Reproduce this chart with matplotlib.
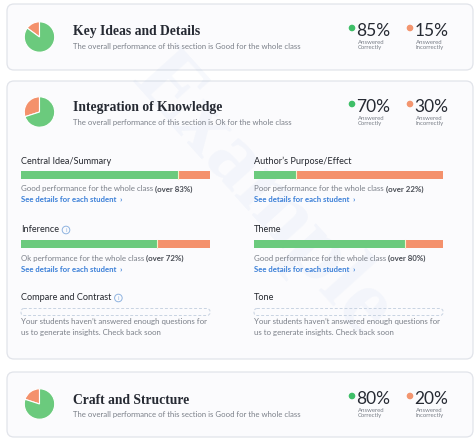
import matplotlib.pyplot as plt
from matplotlib.patches import FancyBboxPatch, Circle

# data
sections = ["Key Ideas and Details", "Integration of Knowledge", "Craft and Structure"]
section_rating = ["Good", "Ok", "Good"]
correct = [85, 70, 80]
incorrect = [15, 30, 20]

skills = ["Central Idea/Summary", "Author\u2019s Purpose/Effect", "Inference", "Theme",
          "Compare and Contrast", "Tone"]
skill_pct = [83, 22, 72, 80, None, None]
skill_rating = ["Good", "Poor", "Ok", "Good", None, None]
skill_info = [False, False, True, False, True, False]

GREEN = "#6bca7d"
ORANGE = "#f4916c"
DOT_GREEN = "#3fbf68"
DOT_ORANGE = "#f3956f"
DARK = "#262a33"
GREY = "#7a7f88"
BLUE = "#3a7fd8"
SANS = ["Lato", "DejaVu Sans"]
SERIF = ["Liberation Serif", "DejaVu Serif"]

W, H = 474, 442
fig = plt.figure(figsize=(W / 100, H / 100), dpi=100)
fig.patch.set_facecolor("white")
ax = fig.add_axes([0, 0, 1, 1])
ax.set_xlim(0, W)
ax.set_ylim(H, 0)
ax.axis("off")

# cards: (top, bottom) in pixels
cards = [(4, 70), (81, 359), (372, 437)]
pie_y = [37, 112, 404]
title_y = [32, 108, 400]
for top, bot in cards:
    ax.add_patch(FancyBboxPatch((7, top), 466, bot - top, boxstyle="round,pad=0,rounding_size=7",
                                facecolor="#fbfbfd", edgecolor="#e1e4ea", lw=0.9, zorder=1))

# watermark
ax.text(262, 195, "Example", rotation=-48, fontsize=66, family=SERIF, fontweight="bold",
        color="#3a6fd0", alpha=0.045, ha="center", va="center", zorder=2)

for i, name in enumerate(sections):
    cy = pie_y[i]
    r = 19
    pax = fig.add_axes([(39.5 - r) / W, 1 - (cy + r) / H, 2 * r / W, 2 * r / H])
    pax.pie([incorrect[i], correct[i]], colors=[ORANGE, GREEN], startangle=90,
            wedgeprops=dict(edgecolor="white", linewidth=0.8))
    pax.set_aspect("equal")

    ty = title_y[i]
    ax.text(73, ty, name, family=SERIF, fontweight="bold", fontsize=9.8, color=DARK,
            va="center", ha="left", zorder=5)
    ax.text(73, ty + 14, "The overall performance of this section is %s for the whole class"
            % section_rating[i], family=SANS, fontsize=5.6, color=GREY, va="center", zorder=5)

    # percentages
    for x0, val, dc, lab in [(352, correct[i], DOT_GREEN, "Answered\nCorrectly"),
                             (410, incorrect[i], DOT_ORANGE, "Answered\nIncorrectly")]:
        ax.add_patch(Circle((x0, ty - 4), 2.6, color=dc, zorder=5))
        ax.text(x0 + 4.5, ty - 1, "%d%%" % val, family=SANS, fontsize=12.5, color=DARK,
                va="center", ha="left", zorder=5)
        ax.text(x0 + 6, ty + 13, lab, family=SANS, fontsize=4.3, color=GREY,
                va="center", ha="left", linespacing=1.0, zorder=5)

# skill blocks inside the middle card
col_x = [21, 254]
row_y = [161, 230, 298]
bar_w = 189
for k, skill in enumerate(skills):
    x0 = col_x[k % 2]
    y0 = row_y[k // 2]
    t = ax.text(x0, y0, skill, family=SANS, fontsize=6.6, color="#25282f",
                va="center", ha="left", zorder=5)
    if skill_info[k]:
        fig.canvas.draw()
        bb = t.get_window_extent().transformed(ax.transData.inverted())
        ix = bb.x1 + 7
        ax.add_patch(Circle((ix, y0), 3.8, facecolor="none", edgecolor="#8fb3e0", lw=0.7, zorder=5))
        ax.text(ix, y0 + 0.3, "i", family=SANS, fontsize=4.5, color="#8fb3e0",
                ha="center", va="center", zorder=5)

    by = y0 + 14
    pct = skill_pct[k]
    if pct is not None:
        ax.barh(by, bar_w, left=x0, height=7.5, color=ORANGE, zorder=4)
        ax.barh(by, pct / 100 * bar_w, left=x0, height=7.5, color=GREEN, zorder=4)
        ax.plot([x0 + pct / 100 * bar_w] * 2, [by - 3.7, by + 3.7], color="#f5f1c8", lw=0.8, zorder=4)
        t1 = ax.text(x0, by + 14, "%s performance for the whole class " % skill_rating[k],
                     family=SANS, fontsize=5.7, color=GREY, va="center", ha="left", zorder=5)
        ax.annotate("(over %d%%)" % pct, xy=(1, 0.5), xycoords=t1, family=SANS, fontsize=5.7,
                    fontweight="bold", color="#4a4e56", va="center", ha="left", zorder=5)
        ax.text(x0, by + 25, "See details for each student  \u203a", family=SANS, fontsize=5.6,
                fontweight="bold", color=BLUE, va="center", ha="left", zorder=5)
    else:
        ax.add_patch(FancyBboxPatch((x0, by - 3.5), bar_w, 7, boxstyle="round,pad=0,rounding_size=3",
                                    facecolor="none", edgecolor="#c8d3e2", lw=0.7,
                                    linestyle=(0, (3, 2)), zorder=4))
        ax.text(x0, by + 15, "Your students haven\u2019t answered enough questions for\n"
                "us to generate insights. Check back soon", family=SANS, fontsize=5.7,
                color=GREY, va="center", ha="left", linespacing=1.6, zorder=5)

fig.savefig("out.png", dpi=100)
